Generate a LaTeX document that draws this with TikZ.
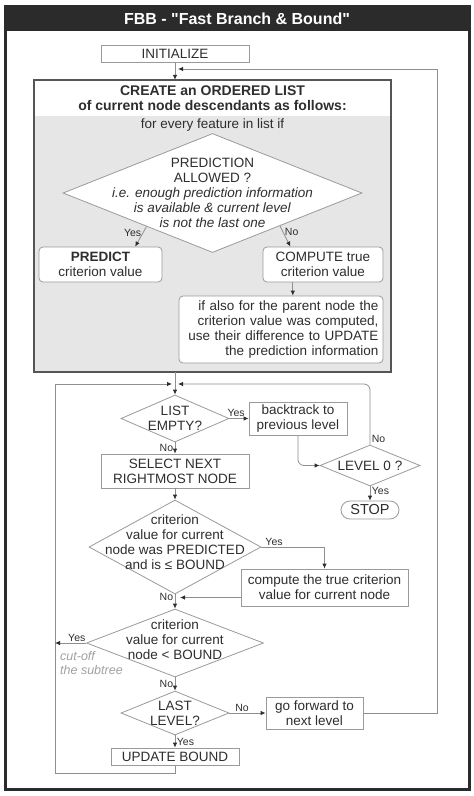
\documentclass[tikz,border=0pt]{standalone}
\usepackage{fontspec}
\setmainfont{Liberation Sans}
\usepackage{xcolor}
\usepackage{tikz}
\usetikzlibrary{shapes.geometric, arrows.meta, calc}

\definecolor{framegray}{HTML}{2B2B2B}
\definecolor{linegray}{HTML}{8F8F8F}
\definecolor{boxgray}{HTML}{9A9A9A}
\definecolor{listgray}{HTML}{E6E6E6}
\definecolor{listedge}{HTML}{555555}
\definecolor{cutgray}{HTML}{A0A0A0}
\definecolor{textgray}{HTML}{2E2E2E}

\begin{document}
\begin{tikzpicture}%
	[x=1pt, y=-1pt,
	txt/.style={font=\fontsize{13.5}{15}\selectfont, text=textgray, align=center, inner sep=0pt},
	box/.style={rectangle, draw=boxgray, fill=white, line width=0.8pt, txt},
	rbox/.style={box, rounded corners=4pt},
	dec/.style={diamond, draw=boxgray, fill=white, line width=0.8pt, inner sep=0pt},
	lab/.style={font=\fontsize{10.5}{12}\selectfont, text=textgray, inner sep=1.5pt},
	arr/.style={draw=linegray, line width=0.8pt, -{Latex[length=5pt,width=4.5pt,color=textgray]}},
	frame/.style={draw=framegray, line width=3pt},
	titlebar/.style={fill=framegray},
	listbox/.style={draw=listedge, line width=1.8pt},
	cut/.style={font=\fontsize{12.5}{14}\selectfont\itshape, text=cutgray, align=left, inner sep=0pt}]
%
\useasboundingbox (0,0) rectangle (474,796);
%%
%% Frame and title
%%
\fill[titlebar] (5,6) rectangle (469,31);
\draw[frame] (5,6) rectangle (469,789);
\node[font=\fontsize{16}{18}\selectfont\bfseries, text=white] (title) at (237,18.5) {FBB - \textquotedbl Fast Branch \& Bound\textquotedbl};
%%
%% Merge points of the loops
%%
\coordinate (j1) at (175,69);
\coordinate (j2) at (175,384);
\coordinate (lc) at (55,384);
\coordinate (rc) at (437,69);
%%
%% Initialize and the ordered list block
%%
\node[box, minimum width=148pt, minimum height=17pt] (init) at (175,53.5) {INITIALIZE};
\node[minimum width=357pt, minimum height=292pt, inner sep=0pt] (create) at (212.5,226) {};
\fill[listgray] ($(create.north west)+(0,36)$) rectangle (create.south east);
\draw[listbox] (create.north west) rectangle (create.south east);
\node[txt, font=\fontsize{14}{15}\selectfont\bfseries] (head) at (212.5,98.5) {CREATE an ORDERED LIST\\of current node descendants as follows:};
\node[txt] (every) at (212.5,125.5) {for every feature in list if};
\node[dec, minimum width=299pt, minimum height=119pt, label={[txt]center:{PREDICTION\\ALLOWED ?\\\textit{i.e. enough prediction information}\\\textit{is available \& current level}\\\textit{is not the last one}}}] (pa) at (212.5,193) {};
\node[rbox, minimum width=123pt, minimum height=35pt] (pb) at (100.5,264.5) {\textbf{PREDICT}\\criterion value};
\node[rbox, minimum width=120pt, minimum height=35pt] (cp) at (323,264.5) {COMPUTE true\\criterion value};
\node[rbox, minimum width=204pt, minimum height=67pt, text width=195pt, align=right] (inf) at (281,329.5) {if also for the parent node the\\criterion value was computed,\\use their difference to UPDATE\\the prediction information};
%%
%% Main loop
%%
\node[dec, minimum width=108pt, minimum height=47pt, label={[txt]center:{LIST\\EMPTY?}}] (lst) at (175,418.5) {};
\node[box, minimum width=98pt, minimum height=33pt] (bt) at (298,418.5) {backtrack to\\previous level};
\node[dec, minimum width=100pt, minimum height=41pt, label={[txt]center:{LEVEL 0 ?}}] (l0) at (370,465.5) {};
\node[box, rounded corners=9pt, minimum width=58pt, minimum height=18pt, font=\fontsize{14.5}{16}\selectfont] (stop) at (370,510) {STOP};
\node[box, minimum width=148pt, minimum height=34pt] (sel) at (175,471) {SELECT NEXT\\RIGHTMOST NODE};
\node[dec, minimum width=172pt, minimum height=94pt, label={[txt,yshift=5pt]center:{criterion\\value for current\\node was PREDICTED\\and is ≤ BOUND}}] (pd) at (175,547) {};
\node[box, minimum width=167pt, minimum height=37pt] (ct) at (324.5,587.5) {compute the true criterion\\value for current node};
\node[dec, minimum width=177pt, minimum height=68pt, label={[txt,yshift=3pt]center:{criterion\\value for current\\node < BOUND}}] (cb) at (175,643) {};
\node[cut, anchor=north west] (cut) at (60,651) {cut-off\\the subtree};
\node[dec, minimum width=108pt, minimum height=44pt, label={[txt]center:{LAST\\LEVEL?}}] (ll) at (175,713) {};
\node[box, minimum width=97pt, minimum height=32pt] (fwd) at (314.5,713) {go forward to\\next level};
\node[box, minimum width=128pt, minimum height=17pt] (upd) at (175,756.5) {UPDATE BOUND};
%%
%% Drawing the connectors
%%
\coordinate (pao) at ($(pa.west)!0.56!(pa.south)$);
\coordinate (pai) at ($(pb.north west)!0.78!(pb.north east)$);
\coordinate (pbo) at ($(pa.south)!0.45!(pa.east)$);
\coordinate (pbi) at ($(cp.north west)!0.23!(cp.north east)$);
\coordinate (cpo) at ($(cp.south west)!0.25!(cp.south east)$);
\coordinate (cto) at ($(ct.west)+(0,10)$);
\draw[arr] (init.south) -- (init.south |- create.north);
\draw[arr] (fwd.east) -| (rc) -- ($(j1)+(3,0)$);
\draw[arr] (pao) -- (pai) node[lab, pos=0.3, left] {Yes};
\draw[arr] (pbo) -- (pbi) node[lab, pos=0.3, right] {No};
\draw[arr] (cpo) -- (cpo |- inf.north);
\draw[arr] (j2 |- create.south) -- (lst.north);
\draw[arr] (upd.south) -- ++(0,8) -| (lc) -- ($(j2)+(-3,0)$);
\draw[arr, rounded corners=6pt] (l0.north) node[lab, above right] {No} |- ($(j2)+(3,0)$);
\draw[arr] (lst.east) -- (bt.west) node[lab, pos=0.35, above] {Yes};
\draw[arr, rounded corners=6pt] (bt.south) |- (l0.west);
\draw[arr] (l0.south) -- (stop.north) node[lab, pos=0.3, right] {Yes};
\draw[arr] (lst.south) -- (sel.north) node[lab, midway, left] {No};
\draw[arr] (sel.south) -- (pd.north);
\draw[arr] (pd.east) -| (ct.north) node[lab, pos=0.1, above] {Yes};
\draw[arr] (cto) -- ($(cto -| pd.south)+(5,0)$);
\draw[arr] (pd.south) -- (cb.north) node[lab, pos=0.2, left] {No};
\draw[arr] (cb.west) -- (cb.west -| lc) node[lab, pos=0.3, above] {Yes};
\draw[arr] (cb.south) -- (ll.north) node[lab, midway, left] {No};
\draw[arr] (ll.east) -- (fwd.west) node[lab, pos=0.35, above] {No};
\draw[arr] (ll.south) -- (upd.north) node[lab, midway, right] {Yes};
%%
\end{tikzpicture}
\end{document}
